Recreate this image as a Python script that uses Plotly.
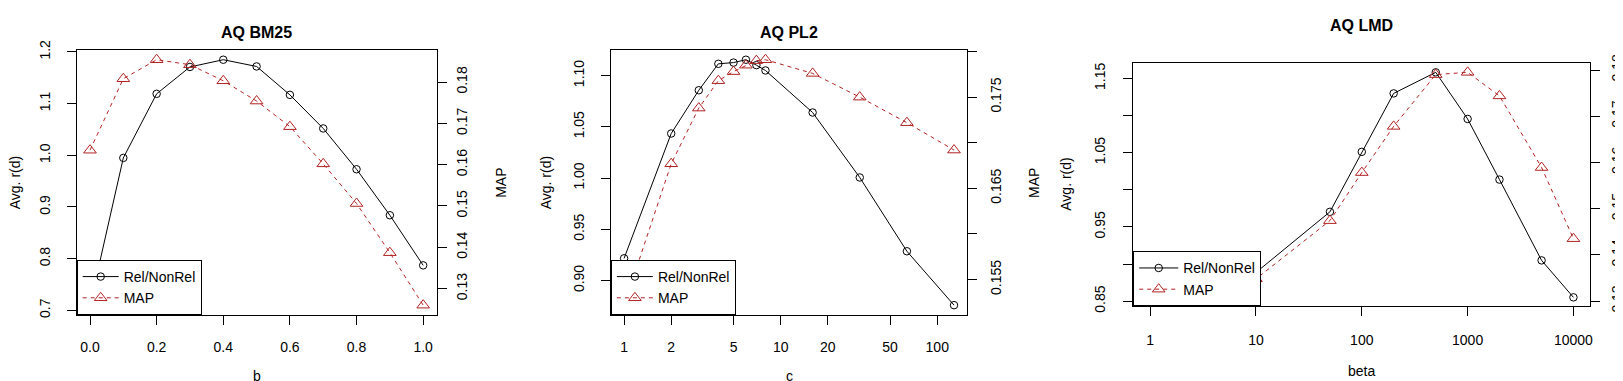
import plotly.graph_objects as go
import math

# ---------------- data ----------------
b_vals = [0.0, 0.1, 0.2, 0.3, 0.4, 0.5, 0.6, 0.7, 0.8, 0.9, 1.0]
bm25_rel = [0.710, 0.995, 1.119, 1.171, 1.185, 1.172, 1.117, 1.052, 0.973, 0.884, 0.787]
bm25_map = [0.1635, 0.1808, 0.1854, 0.1842, 0.1803, 0.1754, 0.1692, 0.1602, 0.1506, 0.1387, 0.1260]

c_vals = [1, 2, 3, 4, 5, 6, 7, 8, 16, 32, 64, 128]
pl2_rel = [0.9217, 1.0435, 1.0857, 1.1115, 1.1127, 1.1155, 1.1102, 1.1050, 1.0640, 1.0006, 0.9286, 0.8760]
pl2_map = [0.1522, 0.1677, 0.1738, 0.1768, 0.1778, 0.1785, 0.1790, 0.1791, 0.1776, 0.1750, 0.1722, 0.1692]

beta_vals = [1, 10, 50, 100, 200, 500, 1000, 2000, 5000, 10000]
lmd_rel = [0.862, 0.8887, 0.9704, 1.0512, 1.1299, 1.1583, 1.0955, 1.0138, 0.9050, 0.8552]
lmd_map = [0.1308, 0.1348, 0.1474, 0.1578, 0.1678, 0.1790, 0.1795, 0.1744, 0.1589, 0.1435]

titles = ["AQ BM25", "AQ PL2", "AQ LMD"]
xlabels = ["b", "c", "beta"]
left_label = "Avg. r(d)"
right_label = "MAP"
series_names = ["Rel/NonRel", "MAP"]

bm25_xticks = [0.0, 0.2, 0.4, 0.6, 0.8, 1.0]
bm25_xtext = ["0.0", "0.2", "0.4", "0.6", "0.8", "1.0"]
bm25_lticks = [0.7, 0.8, 0.9, 1.0, 1.1, 1.2]
bm25_ltext = ["0.7", "0.8", "0.9", "1.0", "1.1", "1.2"]
bm25_rticks = [0.13, 0.14, 0.15, 0.16, 0.17, 0.18]
bm25_rtext = ["0.13", "0.14", "0.15", "0.16", "0.17", "0.18"]

pl2_xticks = [1, 2, 5, 10, 20, 50, 100]
pl2_xtext = ["1", "2", "5", "10", "20", "50", "100"]
pl2_lticks = [0.90, 0.95, 1.00, 1.05, 1.10]
pl2_ltext = ["0.90", "0.95", "1.00", "1.05", "1.10"]
pl2_rticks = [0.155, 0.160, 0.165, 0.170, 0.175, 0.180]
pl2_rtext = ["0.155", "", "0.165", "", "0.175", ""]

lmd_xticks = [1, 10, 100, 1000, 10000]
lmd_xtext = ["1", "10", "100", "1000", "10000"]
lmd_lticks = [0.85, 0.90, 0.95, 1.00, 1.05, 1.10, 1.15]
lmd_ltext = ["0.85", "", "0.95", "", "1.05", "", "1.15"]
lmd_rticks = [0.13, 0.14, 0.15, 0.16, 0.17, 0.18]
lmd_rtext = ["0.13", "0.14", "0.15", "0.16", "0.17", "0.18"]

# ---------------- layout helpers ----------------
W, H = 1623, 381
FONT = "Liberation Sans, Arial, Helvetica, sans-serif"
RED = "#B22222"


def rrange(v, log=False):
    vv = [math.log10(x) for x in v] if log else list(v)
    lo, hi = min(vv), max(vv)
    r = hi - lo
    return [lo - 0.04 * r, hi + 0.04 * r]


def px_x(p):
    return p / W


def px_y(p):
    return 1 - p / H


# plot boxes in pixels (left, right, top, bottom)
boxes = [
    (68.8, 429.3, 33.3, 310.0),
    (604.0, 961.0, 33.3, 310.0),
    (1127.3, 1585.3, 47.3, 301.0),
]
# per-panel styling: (x label standoff, left standoff, right standoff, legend itemwidth)
panel_style = [
    (10, 11, 4, 36),
    (10, 11, 7, 36),
    (12, 13, 5, 39),
]
title_ys = [15.3, 15.3, 8.0]
xlab_ys = [373.3, 373.3, 368.0]

panels = [
    dict(x=b_vals, rel=bm25_rel, mp=bm25_map, log=False,
         xt=(bm25_xticks, bm25_xtext), lt=(bm25_lticks, bm25_ltext), rt=(bm25_rticks, bm25_rtext)),
    dict(x=c_vals, rel=pl2_rel, mp=pl2_map, log=True,
         xt=(pl2_xticks, pl2_xtext), lt=(pl2_lticks, pl2_ltext), rt=(pl2_rticks, pl2_rtext)),
    dict(x=beta_vals, rel=lmd_rel, mp=lmd_map, log=True,
         xt=(lmd_xticks, lmd_xtext), lt=(lmd_lticks, lmd_ltext), rt=(lmd_rticks, lmd_rtext)),
]

fig = go.Figure()
layout = dict(
    width=W, height=H,
    margin=dict(l=0, r=0, t=0, b=0),
    paper_bgcolor="white", plot_bgcolor="white",
    font=dict(family=FONT, size=14, color="black"),
    showlegend=True,
)

tickfont = dict(family=FONT, size=14, color="black")
annotations = []

for i, p in enumerate(panels):
    L, R, T, B = boxes[i]
    xs, ls, rs, iw = panel_style[i]
    xa = "x" if i == 0 else f"x{i+1}"
    ya_l = f"y{2*i+1}" if i > 0 else "y"
    ya_r = f"y{2*i+2}"
    legname = "legend" if i == 0 else f"legend{i+1}"

    fig.add_trace(go.Scatter(
        x=p["x"], y=p["rel"], mode="lines+markers", name=series_names[0],
        line=dict(color="black", width=1),
        marker=dict(symbol="circle-open", size=7.5, color="black", line=dict(width=1)),
        xaxis=xa, yaxis=ya_l, legend=legname, cliponaxis=True,
    ))
    fig.add_trace(go.Scatter(
        x=p["x"], y=p["mp"], mode="lines+markers", name=series_names[1],
        line=dict(color=RED, width=1, dash="4px,4px"),
        marker=dict(symbol="triangle-up-open", size=11, color=RED, line=dict(width=1)),
        xaxis=xa, yaxis=ya_r, legend=legname, cliponaxis=True,
    ))

    xkey = "xaxis" if i == 0 else f"xaxis{i+1}"
    ylkey = "yaxis" if i == 0 else f"yaxis{2*i+1}"
    yrkey = f"yaxis{2*i+2}"
    common = dict(showgrid=False, zeroline=False, ticks="outside", ticklen=9,
                  tickwidth=1, tickcolor="black", showline=True, linecolor="black",
                  linewidth=1, tickfont=tickfont, tickmode="array")
    layout[xkey] = dict(
        domain=[px_x(L), px_x(R)], anchor=ya_l,
        type="log" if p["log"] else "linear",
        range=rrange(p["x"], p["log"]),
        tickvals=p["xt"][0], ticktext=p["xt"][1],
        mirror=True, ticklabelstandoff=xs, **common,
    )
    layout[ylkey] = dict(
        domain=[px_y(B), px_y(T)], anchor=xa,
        range=rrange(p["rel"]),
        tickvals=p["lt"][0], ticktext=p["lt"][1], tickangle=-90,
        mirror=True, ticklabelstandoff=ls, **common,
    )
    layout[yrkey] = dict(
        overlaying=ya_l, side="right", anchor=xa,
        range=rrange(p["mp"]),
        tickvals=p["rt"][0], ticktext=p["rt"][1], tickangle=-90,
        ticklabelstandoff=rs, **common,
    )
    layout[legname] = dict(
        x=px_x(L), y=px_y(B), xanchor="left", yanchor="bottom",
        bgcolor="white", bordercolor="black", borderwidth=1,
        font=dict(family=FONT, size=14, color="black"),
        itemwidth=iw, tracegroupgap=0, traceorder="normal",
    )

    cx = (L + R) / 2
    annotations.append(dict(text=titles[i], x=px_x(cx), y=px_y(title_ys[i]), xref="paper", yref="paper",
                            showarrow=False, xanchor="center", yanchor="middle",
                            font=dict(family=FONT, size=16, color="black", weight="bold")))
    annotations.append(dict(text=xlabels[i], x=px_x(cx), y=px_y(xlab_ys[i]), xref="paper", yref="paper",
                            showarrow=False, xanchor="center", yanchor="middle",
                            font=dict(family=FONT, size=14, color="black")))

# y-axis titles (pixel centres)
ylab_pos = [(6.5, 172, left_label), (494, 172, right_label),
            (538.5, 172, left_label), (1028, 172, right_label),
            (1060, 174, left_label)]
for x, y, t in ylab_pos:
    annotations.append(dict(text=t, x=px_x(x), y=px_y(y), xref="paper", yref="paper",
                            showarrow=False, xanchor="center", yanchor="middle", textangle=-90,
                            font=dict(family=FONT, size=14, color="black")))

layout["annotations"] = annotations
fig.update_layout(**layout)
fig.write_html("out.html")
